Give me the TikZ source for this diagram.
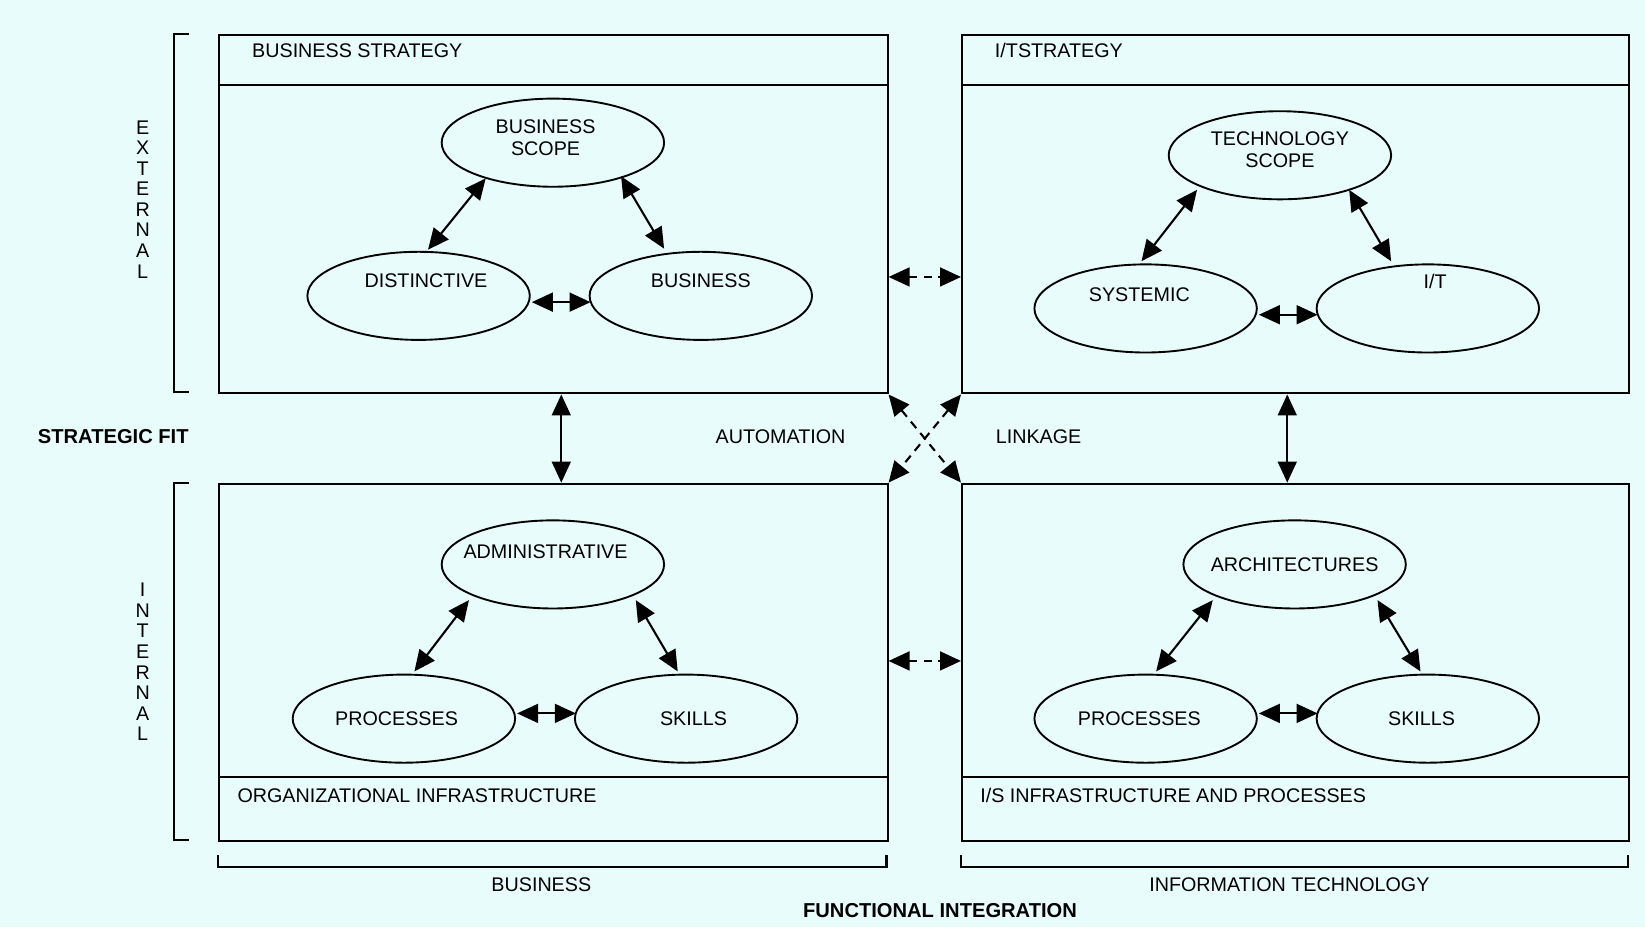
\documentclass[tikz,border=0pt]{standalone}
\usepackage{fontspec}
\setmainfont{Liberation Sans}
\usetikzlibrary{arrows.meta,shapes.geometric}
\definecolor{bg}{HTML}{E8FCFC}
\begin{document}
\begin{tikzpicture}[x=0.5pt,y=-0.5pt,
  every node/.style={font=\fontsize{9.4}{10.4}\selectfont,inner sep=0pt},
  box/.style={draw,line width=1pt},
  ell/.style={draw,ellipse,line width=0.9pt,minimum width=106pt,minimum height=42pt},
  arr/.style={line width=1pt,{Triangle[length=10pt,width=9pt]}-{Triangle[length=10pt,width=9pt]}},
  darr/.style={arr,dashed,dash pattern=on 4pt off 3pt},
  brk/.style={line width=1pt},
  lbl/.style={align=center}]
\fill[bg] (0,0) rectangle (1568,884);
\useasboundingbox (0,0) rectangle (1568,884);
% boxes
\node[box,minimum width=318.5pt,minimum height=171pt,anchor=north west] (bs) at (208,32) {};
\node[box,minimum width=318pt,minimum height=171pt,anchor=north west] (it) at (916,32) {};
\node[box,minimum width=318.5pt,minimum height=170.5pt,anchor=north west] (oi) at (208,460) {};
\node[box,minimum width=318pt,minimum height=170.5pt,anchor=north west] (is) at (916,460) {};
\draw[line width=1pt] (208,81) -- (845,81) (916,81) -- (1552,81) (208,741) -- (845,741) (916,741) -- (1552,741);
\node[anchor=west] (t1) at (240,48) {BUSINESS STRATEGY};
\node[anchor=west] (t2) at (948,48) {I/TSTRATEGY};
\node[anchor=west] (t3) at (226,758) {ORGANIZATIONAL INFRASTRUCTURE};
\node[anchor=west] (t4) at (934,758) {I/S INFRASTRUCTURE AND PROCESSES};
% brackets
\draw[brk] (180,32) -- (166,32) -- (166,374) -- (180,374);
\draw[brk] (180,460) -- (166,460) -- (166,801) -- (180,801);
\draw[brk] (208,815) -- (208,826) -- (845,826) -- (845,815);
\draw[brk] (916,815) -- (916,826) -- (1552,826) -- (1552,815);
\node[lbl,font=\fontsize{9.4}{9.8}\selectfont] (ext) at (136,190) {E\\X\\T\\E\\R\\N\\A\\L};
\node[lbl,font=\fontsize{9.4}{9.8}\selectfont] (int) at (136,631) {I\\N\\T\\E\\R\\N\\A\\L};
\node[font=\fontsize{9.6}{10}\selectfont\bfseries] (sf) at (108,416) {STRATEGIC FIT};
\node (au) at (744,416) {AUTOMATION};
\node (li) at (990,416) {LINKAGE};
\node (bu) at (516,843) {BUSINESS};
\node (itl) at (1229,843) {INFORMATION TECHNOLOGY};
\node[font=\fontsize{9.6}{10}\selectfont\bfseries] (fi) at (896,868) {FUNCTIONAL INTEGRATION};
% ellipses
\node[ell] (e1) at (527,136) {};
\node[lbl] at (520,131) {BUSINESS\\SCOPE};
\node[ell] (e2) at (399,282) {};
\node at (406,268) {DISTINCTIVE};
\node[ell] (e3) at (668,282) {};
\node at (668,268) {BUSINESS};
\node[ell] (f1) at (1220,148) {};
\node[lbl] at (1220,143) {TECHNOLOGY\\SCOPE};
\node[ell] (f2) at (1092,294) {};
\node at (1086,281) {SYSTEMIC};
\node[ell] (f3) at (1361,294) {};
\node at (1368,268) {I/T};
\node[ell] (g1) at (527,538) {};
\node at (520,526) {ADMINISTRATIVE};
\node[ell] (g2) at (385,685) {};
\node at (378,685) {PROCESSES};
\node[ell] (g3) at (654,685) {};
\node at (661,685) {SKILLS};
\node[ell] (h1) at (1234,538) {};
\node at (1234,538) {ARCHITECTURES};
\node[ell] (h2) at (1092,685) {};
\node at (1086,685) {PROCESSES};
\node[ell] (h3) at (1361,685) {};
\node at (1355,685) {SKILLS};
% arrows
\draw[arr] (463,170) -- (408,238);
\draw[arr] (592,168) -- (633,237);
\draw[arr] (e2.east) ++(1,6) -- ++(56,0);
\draw[arr] (1141,181) -- (1088,249);
\draw[arr] (1286,181) -- (1326,249);
\draw[arr] (f2.east) ++(1,6) -- ++(56,0);
\draw[arr] (447,572) -- (395,640);
\draw[arr] (606,572) -- (646,640);
\draw[arr] (g2.east) ++(1,-5) -- ++(56,0);
\draw[arr] (1156,572) -- (1102,640);
\draw[arr] (1313,572) -- (1354,640);
\draw[arr] (h2.east) ++(1,-5) -- ++(56,0);
\draw[arr] (bs.south -| 535,0) -- (oi.north -| 535,0);
\draw[arr] (it.south -| 1227,0) -- (is.north -| 1227,0);
\draw[darr] (bs.east |- 0,264) -- (it.west |- 0,264);
\draw[darr] (oi.east |- 0,630) -- (is.west |- 0,630);
\draw[darr] (bs.south east) -- (is.north west);
\draw[darr] (it.south west) -- (oi.north east);
\end{tikzpicture}
\end{document}
